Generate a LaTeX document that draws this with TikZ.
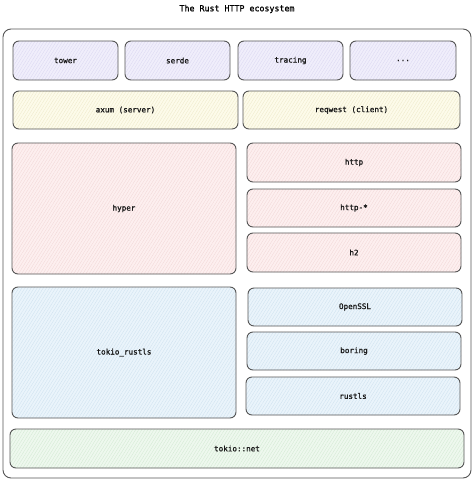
\documentclass[tikz,border=0pt]{standalone}
\usepackage{fontspec}
\setmonofont[FakeBold=1.2]{DejaVu Sans Mono}
\usetikzlibrary{patterns.meta}
\definecolor{lav}{HTML}{F0EEFB}
\definecolor{lavh}{HTML}{DCD8F2}
\definecolor{yel}{HTML}{FDFBEA}
\definecolor{yelh}{HTML}{EEEACB}
\definecolor{pnk}{HTML}{FDEFEF}
\definecolor{pnkh}{HTML}{F2D8D8}
\definecolor{blu}{HTML}{EAF4FB}
\definecolor{bluh}{HTML}{CFE2EF}
\definecolor{grn}{HTML}{EEF8EE}
\definecolor{grnh}{HTML}{D3EAD3}
\definecolor{edge}{HTML}{555555}
\tikzset{
  box/.style={draw=edge, line width=0.9pt, rounded corners=6pt, inner sep=0pt,
    font=\ttfamily\fontsize{7.6}{9}\selectfont, text=black!90},
  hatched/.style n args={2}{box, preaction={fill=#1},
    pattern={Lines[angle=58,distance=2.6pt,line width=0.35pt]}, pattern color=#2},
  lavbox/.style={hatched={lav}{lavh}},
  yelbox/.style={hatched={yel}{yelh}},
  pnkbox/.style={hatched={pnk}{pnkh}},
  blubox/.style={hatched={blu}{bluh}},
  grnbox/.style={hatched={grn}{grnh}},
  sz/.style 2 args={minimum width=#1pt, minimum height=#2pt},
}
\begin{document}
\begin{tikzpicture}[x=1pt,y=-1pt]
\useasboundingbox (0,0) rectangle (474,480);
\node[font=\ttfamily\fontsize{8.3}{10}\selectfont, text=black] (title) at (237,9) {The Rust HTTP ecosystem};
\node[box, fill=white, sz={468}{449}, rounded corners=8pt] (outer) at (237,253.5) {};
\node[lavbox, sz={105}{39}] (tower) at (65.5,60.5) {tower};
\node[lavbox, sz={105}{39}] (serde) at (177.5,60.5) {serde};
\node[lavbox, sz={105}{39}] (tracing) at (290.5,60.5) {tracing};
\node[lavbox, sz={106}{39}] (more) at (403,60.5) {...};
\node[yelbox, sz={225}{38}] (axum) at (125.5,110) {axum (server)};
\node[yelbox, sz={217}{38}] (reqwest) at (351.5,110) {reqwest (client)};
\node[pnkbox, sz={224}{131}] (hyper) at (124,208.5) {hyper};
\node[pnkbox, sz={214}{39}] (http) at (354,162.5) {http};
\node[pnkbox, sz={214}{38}] (httpx) at (354,208) {http-*};
\node[pnkbox, sz={214}{39}] (h2) at (354,252.5) {h2};
\node[blubox, sz={224}{131}] (tokiorustls) at (124,352.5) {tokio\_rustls};
\node[blubox, sz={214}{38}] (openssl) at (355,307) {OpenSSL};
\node[blubox, sz={214}{38}] (boring) at (354,351) {boring};
\node[blubox, sz={214}{38}] (rustls) at (353,396) {rustls};
\node[grnbox, sz={454}{39}] (tokionet) at (237,448.5) {tokio::net};
\end{tikzpicture}
\end{document}
